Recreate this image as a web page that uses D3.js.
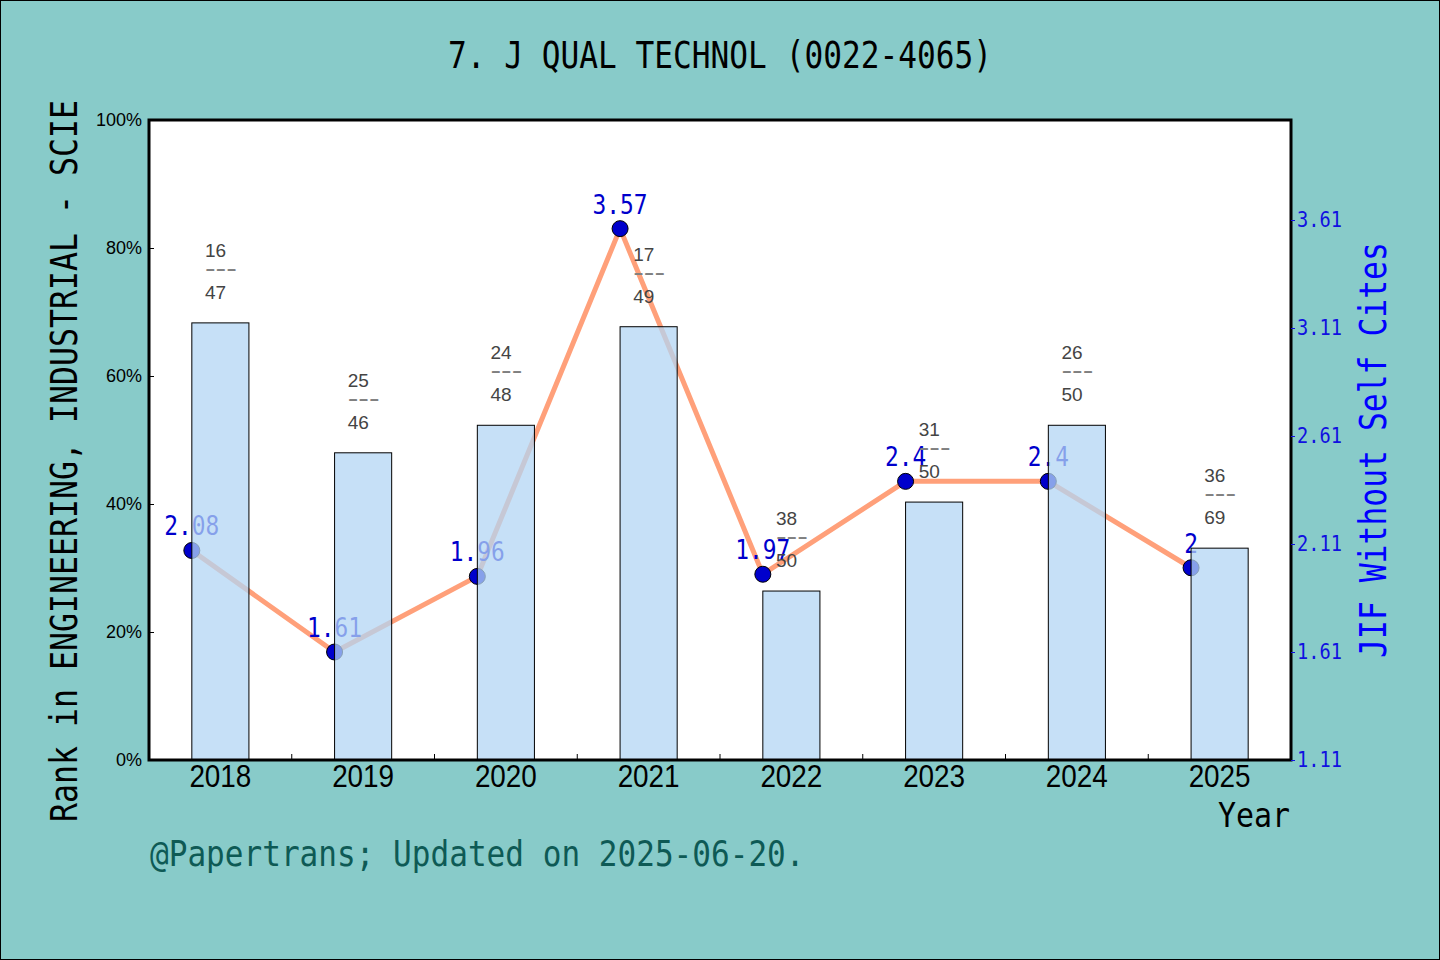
<!DOCTYPE html>
<html>
<head>
<meta charset="utf-8">
<script src="https://cdn.jsdelivr.net/npm/d3@7"></script>
<style>
  body { margin: 0; background: #88cbc9; }
  svg { display: block; }
</style>
</head>
<body>
<svg width="1440" height="960"></svg>
<script>
// data
const years = ['2018', '2019', '2020', '2021', '2022', '2023', '2024', '2025'];
const rankPct = [68.3, 48.0, 52.3, 67.7, 26.4, 40.3, 52.3, 33.1];
const rankNum = [16, 25, 24, 17, 38, 31, 26, 36];
const rankTotal = [47, 46, 48, 49, 50, 50, 50, 69];
const jifValues = [2.08, 1.61, 1.96, 3.57, 1.97, 2.4, 2.4, 2];
const jifTicks = [1.11, 1.61, 2.11, 2.61, 3.11, 3.61];
const pctTicks = [0, 20, 40, 60, 80, 100];

const mono = 'DejaVu Sans Mono';
const sans = 'Liberation Sans, Arial, sans-serif';

const svg = d3.select('svg'),
      margin = { top: 120, right: 149, bottom: 200, left: 149 },
      width = +svg.attr('width') - margin.left - margin.right,
      height = +svg.attr('height') - margin.top - margin.bottom;

svg.append('rect')
    .attr('x', 0.5).attr('y', 0.5)
    .attr('width', 1439).attr('height', 959)
    .attr('fill', '#88cbc9')
    .attr('stroke', '#000');

const g = svg.append('g')
    .attr('transform', 'translate(' + margin.left + ',' + margin.top + ')');

g.append('rect')
    .attr('width', width).attr('height', height)
    .attr('fill', '#fff');

const x = d3.scaleBand().domain(years).range([0, width]).padding(0);
const bw = x.bandwidth();
const y = d3.scaleLinear().domain([0, 100]).range([height, 0]);
const yJ = d3.scaleLinear().domain([1.11, 4.073]).range([height, 0]);

// monospace text squeezed to a narrow advance, like the original font
function squeeze(sel, perChar) {
  sel.attr('textLength', function () { return this.textContent.length * perChar; })
     .attr('lengthAdjust', 'spacingAndGlyphs');
}

const barX = (i) => x(years[i]) + bw * 0.3;

const line = d3.line()
    .x((d, i) => barX(i))
    .y((d) => yJ(d));

g.append('path')
    .datum(jifValues)
    .attr('fill', 'none')
    .attr('stroke', '#ffa07a')
    .attr('stroke-width', 5)
    .attr('stroke-linejoin', 'round')
    .attr('d', line);

g.selectAll('.pt')
  .data(jifValues)
  .enter().append('circle')
    .attr('cx', (d, i) => barX(i))
    .attr('cy', (d) => yJ(d))
    .attr('r', 8)
    .attr('fill', '#0000cc')
    .attr('stroke', '#000')
    .attr('stroke-width', 1);

g.selectAll('.ptlab')
  .data(jifValues)
  .enter().append('text')
    .attr('x', (d, i) => barX(i))
    .attr('y', (d) => yJ(d) - 15)
    .attr('text-anchor', 'middle')
    .attr('font-family', mono)
    .attr('font-size', 26)
    .attr('fill', '#0000cc')
    .text((d) => String(d))
    .call(squeeze, 13.75);

g.selectAll('.bar')
  .data(rankPct)
  .enter().append('rect')
    .attr('x', (d, i) => barX(i))
    .attr('y', (d) => y(d))
    .attr('width', bw * 0.4)
    .attr('height', (d) => height - y(d))
    .attr('fill', 'rgb(179,214,244)')
    .attr('fill-opacity', 0.75)
    .attr('stroke', '#000')
    .attr('stroke-width', 1);

// rank fraction labels above the bars
const lab = g.selectAll('.rank')
  .data(rankPct)
  .enter().append('g')
    .attr('transform', (d, i) => 'translate(' + (x(years[i]) + bw / 2 - 15.5) + ',' + y(d) + ')');

lab.append('text')
    .attr('y', -66)
    .attr('font-family', sans).attr('font-size', 19)
    .attr('fill', '#444')
    .text((d, i) => rankNum[i]);
lab.append('text')
    .attr('y', -47)
    .attr('font-family', sans).attr('font-size', 24)
    .attr('fill', '#808080')
    .attr('textLength', 32).attr('lengthAdjust', 'spacingAndGlyphs')
    .text('---');
lab.append('text')
    .attr('y', -24)
    .attr('font-family', sans).attr('font-size', 19)
    .attr('fill', '#444')
    .text((d, i) => rankTotal[i]);

// frame
g.append('rect')
    .attr('width', width).attr('height', height)
    .attr('fill', 'none')
    .attr('stroke', '#000')
    .attr('stroke-width', 3);

// left axis
const ax = g.append('g')
    .call(d3.axisLeft(y).tickValues(pctTicks).tickSize(-5).tickPadding(7)
      .tickFormat((d) => d + '%'));
ax.select('.domain').remove();
ax.selectAll('text').attr('font-family', sans).attr('font-size', 18).attr('fill', '#000');

// right axis
const axR = g.append('g')
    .attr('transform', 'translate(' + width + ',0)')
    .call(d3.axisRight(yJ).tickValues(jifTicks).tickSize(4).tickPadding(2)
      .tickFormat(d3.format('.2f')));
axR.select('.domain').remove();
axR.selectAll('line').attr('stroke', '#1010e0');
axR.selectAll('text')
    .attr('font-family', mono).attr('font-size', 21).attr('fill', '#1010e0')
    .call(squeeze, 11.25);

// bottom axis
const axB = g.append('g')
    .attr('transform', 'translate(0,' + height + ')')
    .call(d3.axisBottom(x).tickSize(0).tickPadding(5));
axB.select('.domain').remove();
axB.selectAll('text')
    .attr('font-family', sans).attr('font-size', 31).attr('fill', '#000')
    .attr('dy', '0.71em')
    .call(squeeze, 15.5);

g.selectAll('.btick')
  .data(years.slice(1))
  .enter().append('line')
    .attr('x1', (d) => x(d)).attr('x2', (d) => x(d))
    .attr('y1', height).attr('y2', height - 6)
    .attr('stroke', '#000');

// titles
svg.append('text')
    .attr('x', 720).attr('y', 68)
    .attr('text-anchor', 'middle')
    .attr('font-family', mono).attr('font-size', 37)
    .text('7. J QUAL TECHNOL (0022-4065)')
    .call(squeeze, 18.76);

svg.append('text')
    .attr('transform', 'translate(77,461) rotate(-90)')
    .attr('text-anchor', 'middle')
    .attr('font-family', mono).attr('font-size', 37)
    .text('Rank in ENGINEERING, INDUSTRIAL - SCIE')
    .call(squeeze, 19);

svg.append('text')
    .attr('transform', 'translate(1386,450) rotate(-90)')
    .attr('text-anchor', 'middle')
    .attr('font-family', mono).attr('font-size', 37)
    .attr('fill', '#0000ff')
    .text('JIF Without Self Cites')
    .call(squeeze, 18.9);

svg.append('text')
    .attr('x', 1290).attr('y', 827)
    .attr('text-anchor', 'end')
    .attr('font-family', mono).attr('font-size', 33)
    .text('Year')
    .call(squeeze, 18);

svg.append('text')
    .attr('x', 150).attr('y', 866)
    .attr('font-family', mono).attr('font-size', 35)
    .attr('fill', '#0e5a55')
    .text('@Papertrans; Updated on 2025-06-20.')
    .call(squeeze, 18.7);
</script>
</body>
</html>
